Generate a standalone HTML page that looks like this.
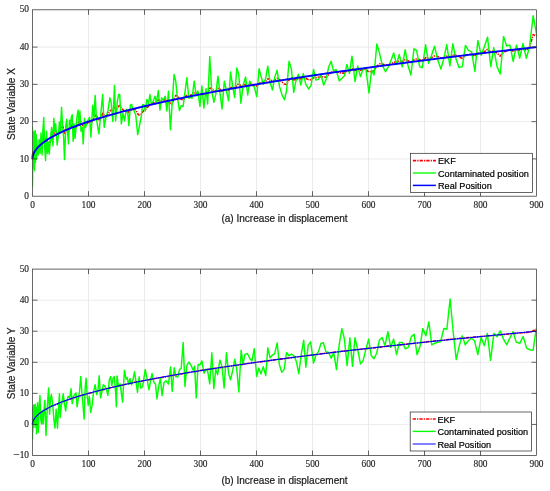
<!DOCTYPE html>
<html><head><meta charset="utf-8"><title>EKF</title>
<style>
html,body{margin:0;padding:0;background:#fff;}
svg{display:block}
.tk{font-family:"Liberation Serif","DejaVu Serif",serif;font-size:9.4px;fill:#262626;stroke:#262626;stroke-width:0.15px}
.lb{font-family:"Liberation Sans","DejaVu Sans",sans-serif;font-size:10.05px;fill:#1a1a1a;stroke:#1a1a1a;stroke-width:0.2px}
.lg{font-family:"Liberation Sans","DejaVu Sans",sans-serif;font-size:9.15px;fill:#000;stroke:#000;stroke-width:0.2px}
</style></head><body>
<svg width="550" height="491" viewBox="0 0 550 491">
<defs>
<clipPath id="c10"><rect x="32.5" y="9.8" width="504.0" height="186.39999999999998"/></clipPath>
<clipPath id="c0"><rect x="32.5" y="269.1" width="504.0" height="186.39999999999998"/></clipPath>
</defs>
<rect width="550" height="491" fill="#fff"/>
<rect x="32.5" y="9.8" width="504.0" height="186.39999999999998" fill="#fff"/>
<line x1="32.50" y1="9.8" x2="32.50" y2="196.2" stroke="#e2e2e2" stroke-width="0.7"/>
<line x1="88.50" y1="9.8" x2="88.50" y2="196.2" stroke="#e2e2e2" stroke-width="0.7"/>
<line x1="144.50" y1="9.8" x2="144.50" y2="196.2" stroke="#e2e2e2" stroke-width="0.7"/>
<line x1="200.50" y1="9.8" x2="200.50" y2="196.2" stroke="#e2e2e2" stroke-width="0.7"/>
<line x1="256.50" y1="9.8" x2="256.50" y2="196.2" stroke="#e2e2e2" stroke-width="0.7"/>
<line x1="312.50" y1="9.8" x2="312.50" y2="196.2" stroke="#e2e2e2" stroke-width="0.7"/>
<line x1="368.50" y1="9.8" x2="368.50" y2="196.2" stroke="#e2e2e2" stroke-width="0.7"/>
<line x1="424.50" y1="9.8" x2="424.50" y2="196.2" stroke="#e2e2e2" stroke-width="0.7"/>
<line x1="480.50" y1="9.8" x2="480.50" y2="196.2" stroke="#e2e2e2" stroke-width="0.7"/>
<line x1="536.50" y1="9.8" x2="536.50" y2="196.2" stroke="#e2e2e2" stroke-width="0.7"/>
<line x1="32.5" y1="196.20" x2="536.5" y2="196.20" stroke="#e2e2e2" stroke-width="0.7"/>
<line x1="32.5" y1="158.92" x2="536.5" y2="158.92" stroke="#e2e2e2" stroke-width="0.7"/>
<line x1="32.5" y1="121.64" x2="536.5" y2="121.64" stroke="#e2e2e2" stroke-width="0.7"/>
<line x1="32.5" y1="84.36" x2="536.5" y2="84.36" stroke="#e2e2e2" stroke-width="0.7"/>
<line x1="32.5" y1="47.08" x2="536.5" y2="47.08" stroke="#e2e2e2" stroke-width="0.7"/>
<line x1="32.5" y1="9.80" x2="536.5" y2="9.80" stroke="#e2e2e2" stroke-width="0.7"/>
<polyline points="32.50,153.85 32.51,159.16 32.52,156.37 32.55,157.22 32.59,153.35 32.64,157.70 32.70,154.54 32.77,156.31 32.86,152.36 32.95,153.12 33.06,152.17 33.18,154.70 33.31,150.90 33.45,151.59 33.60,149.39 33.76,151.29 33.93,148.03 34.12,148.71 34.31,147.69 34.52,151.49 34.74,148.82 34.97,149.47 35.21,146.28 35.46,148.98 35.73,147.52 36.00,147.76 36.29,145.52 36.58,147.69 36.89,146.29 37.21,146.41 37.54,146.83 37.88,147.49 38.23,148.35 38.60,148.06 38.97,146.78 39.36,145.69 39.76,145.80 40.17,146.38 40.59,145.31 41.02,143.01 41.46,142.66 41.91,143.82 42.38,143.89 42.85,141.47 43.34,138.44 43.84,135.55 44.35,136.04 44.87,138.54 45.40,141.57 45.95,142.45 46.50,140.25 47.07,140.61 47.64,141.84 48.23,141.61 48.83,142.17 49.44,143.09 50.06,142.39 50.69,140.59 51.34,138.34 51.99,136.98 52.66,137.46 53.34,136.48 54.03,133.63 54.73,133.02 55.44,131.78 56.16,131.58 56.89,133.08 57.64,134.17 58.39,134.01 59.16,132.18 59.94,131.45 60.73,130.06 61.53,126.42 62.34,125.86 63.17,127.15 64.00,130.43 64.85,133.35 65.70,131.89 66.57,129.55 67.45,129.42 68.34,131.08 69.24,129.71 70.15,128.69 71.08,126.91 72.01,124.82 72.96,126.66 73.92,126.31 74.89,127.83 75.87,127.65 76.86,125.64 77.86,123.07 78.87,122.48 79.90,120.59 80.93,122.12 81.98,123.00 83.04,125.64 84.11,125.20 85.19,124.53 86.28,124.07 87.39,123.14 88.50,122.11 89.63,121.11 90.76,123.06 91.91,121.91 93.07,119.36 94.24,118.08 95.42,115.08 96.61,115.95 97.82,117.73 99.03,119.86 100.26,119.30 101.50,116.79 102.75,113.24 104.01,115.02 105.28,115.84 106.56,115.51 107.85,114.55 109.16,112.43 110.47,110.39 111.80,110.39 113.14,111.13 114.49,107.14 115.85,109.17 117.22,108.25 118.61,106.18 120.00,105.46 121.41,108.66 122.82,109.55 124.25,110.95 125.69,111.01 127.14,110.77 128.60,112.28 130.07,111.22 131.56,109.68 133.05,109.33 134.56,109.42 136.08,110.47 137.61,113.67 139.15,115.03 140.70,114.71 142.26,112.58 143.83,110.52 145.42,109.69 147.01,107.46 148.62,106.24 150.24,104.26 151.87,103.79 153.51,102.99 155.16,101.77 156.83,101.46 158.50,99.90 160.19,101.22 161.88,100.56 163.59,100.24 165.31,99.59 167.04,100.86 168.78,100.02 170.53,104.28 172.30,103.19 174.07,98.05 175.86,95.38 177.66,96.04 179.47,98.28 181.29,99.18 183.12,99.91 184.96,98.21 186.81,94.61 188.68,94.87 190.55,95.14 192.44,94.98 194.34,92.67 196.25,93.09 198.17,93.02 200.10,94.77 202.05,93.26 204.00,95.21 205.97,93.74 207.94,93.96 209.93,88.02 211.93,88.75 213.94,90.87 215.96,90.99 217.99,88.40 220.04,89.14 222.09,92.04 224.16,90.17 226.24,89.79 228.33,91.01 230.43,87.81 232.54,87.19 234.66,88.61 236.79,84.96 238.94,83.66 241.09,86.52 243.26,85.98 245.44,84.38 247.63,85.78 249.83,84.76 252.04,84.60 254.27,84.69 256.50,86.14 258.75,83.52 261.00,82.06 263.27,82.10 265.55,81.35 267.84,78.83 270.14,79.48 272.45,81.05 274.78,80.19 277.11,78.42 279.46,79.56 281.82,81.68 284.19,84.04 286.57,84.44 288.96,80.14 291.36,77.94 293.77,79.99 296.20,79.56 298.63,78.46 301.08,78.93 303.54,77.79 306.01,78.49 308.49,79.65 310.98,79.92 313.49,77.67 316.00,77.54 318.53,77.27 321.06,76.45 323.61,77.24 326.17,76.96 328.74,74.72 331.32,72.25 333.91,71.77 336.52,71.43 339.13,72.60 341.76,73.14 344.40,73.10 347.05,71.29 349.71,71.00 352.38,68.81 355.06,70.62 357.75,69.51 360.46,70.30 363.17,69.58 365.90,69.03 368.64,72.04 371.39,71.29 374.15,71.01 376.92,66.04 379.71,63.84 382.50,64.03 385.31,65.04 388.12,65.09 390.95,64.04 393.79,62.06 396.64,62.22 399.50,60.99 402.37,61.67 405.26,59.67 408.15,60.64 411.06,62.52 413.98,59.97 416.91,58.54 419.85,59.81 422.80,60.31 425.76,57.68 428.73,58.44 431.72,57.64 434.71,55.80 437.72,56.44 440.74,58.28 443.77,58.03 446.81,55.59 449.86,57.07 452.93,54.71 456.00,55.24 459.09,56.99 462.18,58.14 465.29,55.71 468.41,54.49 471.54,53.79 474.68,56.16 477.83,53.21 481.00,53.16 484.17,51.92 487.36,49.43 490.56,51.82 493.77,50.94 496.99,53.20 500.22,56.04 503.46,52.33 506.71,50.85 509.98,49.63 513.25,51.20 516.54,49.82 519.84,50.73 523.15,49.19 526.47,50.16 529.80,46.78 533.15,34.60 536.50,36.19" fill="none" stroke="#ff0000" stroke-width="1.6" stroke-dasharray="3.3 1.1 1.2 1.1" stroke-linejoin="round"/>
<polyline points="32.50,127.23 32.51,186.13 32.52,144.01 32.55,162.65 32.59,134.69 32.64,180.17 32.70,140.28 32.77,166.38 32.86,133.57 32.95,157.06 33.06,147.74 33.18,168.24 33.31,132.82 33.45,155.19 33.60,138.42 33.76,160.78 33.93,131.71 34.12,151.46 34.31,142.14 34.52,170.85 34.74,136.55 34.97,153.33 35.21,130.59 35.46,162.65 35.73,141.03 36.00,149.60 36.29,134.69 36.58,158.92 36.89,140.28 37.21,147.74 38.26,155.05 39.17,139.45 40.09,153.21 41.01,133.03 42.11,155.05 42.84,131.19 43.76,117.43 44.68,147.71 45.60,160.55 46.51,131.19 47.43,153.21 48.35,142.20 49.27,154.13 50.55,136.70 51.65,127.52 52.94,145.87 53.85,118.35 54.77,131.19 55.69,123.85 57.16,144.95 58.44,134.86 59.36,122.02 60.28,133.03 61.56,107.34 62.66,127.52 63.58,136.70 64.50,159.63 65.78,125.69 66.70,119.27 67.61,133.03 68.53,144.04 69.45,120.18 70.37,127.52 71.28,117.43 72.20,114.68 73.12,141.28 74.04,123.85 74.95,138.53 75.87,129.36 76.79,118.35 78.07,110.09 79.17,123.85 79.91,111.01 81.01,131.19 82.29,127.52 83.21,144.04 84.50,118.35 85.60,127.52 86.88,122.02 89.58,117.46 90.89,137.10 92.69,105.19 94.00,117.46 95.15,95.37 96.46,119.10 98.91,133.83 100.88,112.55 102.68,94.55 104.15,127.28 105.95,117.46 107.91,110.92 109.88,97.82 111.19,102.73 112.82,121.55 114.46,85.55 115.61,120.74 117.24,102.73 118.55,94.55 119.70,94.55 121.33,124.01 122.97,113.37 124.61,120.74 126.24,109.28 127.88,113.37 128.86,125.65 130.34,105.19 131.64,104.37 132.79,109.28 134.10,110.92 135.74,115.01 137.70,134.65 139.83,124.01 141.46,115.01 142.61,104.37 144.25,105.19 145.23,110.92 146.87,99.46 148.50,103.55 149.98,94.55 151.28,103.55 152.92,101.91 155.05,96.19 156.52,102.73 158.32,90.46 159.96,110.10 161.60,97.82 163.23,100.28 165.20,96.19 166.83,110.92 168.47,91.28 170.43,129.74 174.09,74.55 175.73,81.10 177.36,97.46 179.49,110.56 181.13,105.65 183.09,106.46 184.73,94.19 186.86,77.82 188.82,98.28 190.46,97.46 192.09,98.28 194.22,81.10 196.19,95.83 197.82,90.92 199.95,106.46 201.91,86.01 203.88,108.10 206.01,88.46 207.64,104.01 209.77,56.55 211.73,90.92 213.86,102.37 215.83,94.19 217.95,76.19 219.92,92.55 222.05,108.92 224.34,81.10 226.46,90.92 228.59,100.74 230.56,72.09 232.52,85.19 234.65,97.46 236.78,68.00 238.74,74.55 240.87,103.19 243.16,85.19 245.61,77.00 247.74,95.01 249.71,81.10 251.83,85.19 254.29,86.82 256.74,96.64 259.09,68.64 260.73,75.19 263.51,84.19 265.64,78.46 267.77,66.19 270.06,82.55 272.51,89.92 274.64,77.64 277.09,70.28 279.55,86.64 282.00,94.83 284.46,99.74 286.59,90.74 289.04,61.28 291.33,68.64 293.79,92.37 295.92,80.92 298.37,74.37 300.83,85.01 303.28,73.55 305.74,84.19 308.68,89.10 311.14,85.01 313.59,69.46 315.88,80.10 318.50,79.28 320.96,75.19 323.74,85.01 326.19,79.28 328.65,67.00 331.10,61.28 333.56,71.10 336.01,69.46 339.29,80.92 341.74,78.46 344.42,75.83 346.87,64.37 349.49,73.37 351.95,56.19 355.06,81.55 357.68,66.01 360.46,76.64 363.24,68.46 365.86,68.46 368.97,93.01 371.59,70.10 374.04,75.01 376.82,43.91 379.28,52.09 382.23,65.19 385.50,71.73 388.28,66.82 391.06,60.28 393.68,52.91 396.46,64.37 399.25,54.55 402.19,66.82 405.14,49.64 407.92,65.19 410.87,75.01 413.98,48.82 416.60,50.46 419.71,66.82 422.32,67.64 425.60,44.73 428.60,63.37 431.55,55.19 434.49,46.19 437.77,60.10 440.88,69.10 443.82,58.46 446.77,44.55 449.88,65.83 452.82,43.73 456.10,59.28 459.04,67.46 462.32,66.64 465.43,45.37 468.37,50.28 471.64,51.91 474.92,71.55 477.86,40.46 481.14,55.19 484.25,47.00 487.52,37.18 490.79,66.64 493.74,47.82 497.01,66.64 500.29,74.01 503.56,36.37 506.64,45.92 509.92,45.10 513.19,61.46 516.46,45.10 519.74,58.19 523.01,43.46 526.28,58.19 529.56,46.73 533.16,15.64 536.92,36.10" fill="none" stroke="#00ff00" stroke-width="1.45" stroke-linejoin="round" clip-path="url(#c10)"/>
<polyline points="32.50,158.92 32.51,158.55 32.52,158.17 32.55,157.80 32.59,157.43 32.64,157.06 32.70,156.68 32.77,156.31 32.86,155.94 32.95,155.56 33.06,155.19 33.18,154.82 33.31,154.45 33.45,154.07 33.60,153.70 33.76,153.33 33.93,152.96 34.12,152.58 34.31,152.21 34.52,151.84 34.74,151.46 34.97,151.09 35.21,150.72 35.46,150.35 35.73,149.97 36.00,149.60 36.29,149.23 36.58,148.85 36.89,148.48 37.21,148.11 37.54,147.74 37.88,147.36 38.23,146.99 38.60,146.62 38.97,146.24 39.36,145.87 39.76,145.50 40.17,145.13 40.59,144.75 41.02,144.38 41.46,144.01 41.91,143.64 42.38,143.26 42.85,142.89 43.34,142.52 43.84,142.14 44.35,141.77 44.87,141.40 45.40,141.03 45.95,140.65 46.50,140.28 47.07,139.91 47.64,139.53 48.23,139.16 48.83,138.79 49.44,138.42 50.06,138.04 50.69,137.67 51.34,137.30 51.99,136.92 52.66,136.55 53.34,136.18 54.03,135.81 54.73,135.43 55.44,135.06 56.16,134.69 56.89,134.32 57.64,133.94 58.39,133.57 59.16,133.20 59.94,132.82 60.73,132.45 61.53,132.08 62.34,131.71 63.17,131.33 64.00,130.96 64.85,130.59 65.70,130.21 66.57,129.84 67.45,129.47 68.34,129.10 69.24,128.72 70.15,128.35 71.08,127.98 72.01,127.60 72.96,127.23 73.92,126.86 74.89,126.49 75.87,126.11 76.86,125.74 77.86,125.37 78.87,125.00 79.90,124.62 80.93,124.25 81.98,123.88 83.04,123.50 84.11,123.13 85.19,122.76 86.28,122.39 87.39,122.01 88.50,121.64 89.63,121.27 90.76,120.89 91.91,120.52 93.07,120.15 94.24,119.78 95.42,119.40 96.61,119.03 97.82,118.66 99.03,118.28 100.26,117.91 101.50,117.54 102.75,117.17 104.01,116.79 105.28,116.42 106.56,116.05 107.85,115.68 109.16,115.30 110.47,114.93 111.80,114.56 113.14,114.18 114.49,113.81 115.85,113.44 117.22,113.07 118.61,112.69 120.00,112.32 121.41,111.95 122.82,111.57 124.25,111.20 125.69,110.83 127.14,110.46 128.60,110.08 130.07,109.71 131.56,109.34 133.05,108.96 134.56,108.59 136.08,108.22 137.61,107.85 139.15,107.47 140.70,107.10 142.26,106.73 143.83,106.36 145.42,105.98 147.01,105.61 148.62,105.24 150.24,104.86 151.87,104.49 153.51,104.12 155.16,103.75 156.83,103.37 158.50,103.00 160.19,102.63 161.88,102.25 163.59,101.88 165.31,101.51 167.04,101.14 168.78,100.76 170.53,100.39 172.30,100.02 174.07,99.64 175.86,99.27 177.66,98.90 179.47,98.53 181.29,98.15 183.12,97.78 184.96,97.41 186.81,97.04 188.68,96.66 190.55,96.29 192.44,95.92 194.34,95.54 196.25,95.17 198.17,94.80 200.10,94.43 202.05,94.05 204.00,93.68 205.97,93.31 207.94,92.93 209.93,92.56 211.93,92.19 213.94,91.82 215.96,91.44 217.99,91.07 220.04,90.70 222.09,90.32 224.16,89.95 226.24,89.58 228.33,89.21 230.43,88.83 232.54,88.46 234.66,88.09 236.79,87.72 238.94,87.34 241.09,86.97 243.26,86.60 245.44,86.22 247.63,85.85 249.83,85.48 252.04,85.11 254.27,84.73 256.50,84.36 258.75,83.99 261.00,83.61 263.27,83.24 265.55,82.87 267.84,82.50 270.14,82.12 272.45,81.75 274.78,81.38 277.11,81.00 279.46,80.63 281.82,80.26 284.19,79.89 286.57,79.51 288.96,79.14 291.36,78.77 293.77,78.40 296.20,78.02 298.63,77.65 301.08,77.28 303.54,76.90 306.01,76.53 308.49,76.16 310.98,75.79 313.49,75.41 316.00,75.04 318.53,74.67 321.06,74.29 323.61,73.92 326.17,73.55 328.74,73.18 331.32,72.80 333.91,72.43 336.52,72.06 339.13,71.68 341.76,71.31 344.40,70.94 347.05,70.57 349.71,70.19 352.38,69.82 355.06,69.45 357.75,69.08 360.46,68.70 363.17,68.33 365.90,67.96 368.64,67.58 371.39,67.21 374.15,66.84 376.92,66.47 379.71,66.09 382.50,65.72 385.31,65.35 388.12,64.97 390.95,64.60 393.79,64.23 396.64,63.86 399.50,63.48 402.37,63.11 405.26,62.74 408.15,62.36 411.06,61.99 413.98,61.62 416.91,61.25 419.85,60.87 422.80,60.50 425.76,60.13 428.73,59.76 431.72,59.38 434.71,59.01 437.72,58.64 440.74,58.26 443.77,57.89 446.81,57.52 449.86,57.15 452.93,56.77 456.00,56.40 459.09,56.03 462.18,55.65 465.29,55.28 468.41,54.91 471.54,54.54 474.68,54.16 477.83,53.79 481.00,53.42 484.17,53.04 487.36,52.67 490.56,52.30 493.77,51.93 496.99,51.55 500.22,51.18 503.46,50.81 506.71,50.44 509.98,50.06 513.25,49.69 516.54,49.32 519.84,48.94 523.15,48.57 526.47,48.20 529.80,47.83 533.15,47.45 536.50,47.08" fill="none" stroke="#0000ff" stroke-width="1.9" stroke-opacity="1" stroke-linejoin="round"/>
<rect x="32.5" y="9.8" width="504.0" height="186.39999999999998" fill="none" stroke="#333" stroke-width="0.7"/>
<text x="32.50" y="207.89999999999998" class="tk" text-anchor="middle">0</text>
<line x1="88.50" y1="196.2" x2="88.50" y2="191.2" stroke="#262626" stroke-width="0.7"/>
<line x1="88.50" y1="9.8" x2="88.50" y2="14.8" stroke="#262626" stroke-width="0.7"/>
<text x="88.50" y="207.89999999999998" class="tk" text-anchor="middle">100</text>
<line x1="144.50" y1="196.2" x2="144.50" y2="191.2" stroke="#262626" stroke-width="0.7"/>
<line x1="144.50" y1="9.8" x2="144.50" y2="14.8" stroke="#262626" stroke-width="0.7"/>
<text x="144.50" y="207.89999999999998" class="tk" text-anchor="middle">200</text>
<line x1="200.50" y1="196.2" x2="200.50" y2="191.2" stroke="#262626" stroke-width="0.7"/>
<line x1="200.50" y1="9.8" x2="200.50" y2="14.8" stroke="#262626" stroke-width="0.7"/>
<text x="200.50" y="207.89999999999998" class="tk" text-anchor="middle">300</text>
<line x1="256.50" y1="196.2" x2="256.50" y2="191.2" stroke="#262626" stroke-width="0.7"/>
<line x1="256.50" y1="9.8" x2="256.50" y2="14.8" stroke="#262626" stroke-width="0.7"/>
<text x="256.50" y="207.89999999999998" class="tk" text-anchor="middle">400</text>
<line x1="312.50" y1="196.2" x2="312.50" y2="191.2" stroke="#262626" stroke-width="0.7"/>
<line x1="312.50" y1="9.8" x2="312.50" y2="14.8" stroke="#262626" stroke-width="0.7"/>
<text x="312.50" y="207.89999999999998" class="tk" text-anchor="middle">500</text>
<line x1="368.50" y1="196.2" x2="368.50" y2="191.2" stroke="#262626" stroke-width="0.7"/>
<line x1="368.50" y1="9.8" x2="368.50" y2="14.8" stroke="#262626" stroke-width="0.7"/>
<text x="368.50" y="207.89999999999998" class="tk" text-anchor="middle">600</text>
<line x1="424.50" y1="196.2" x2="424.50" y2="191.2" stroke="#262626" stroke-width="0.7"/>
<line x1="424.50" y1="9.8" x2="424.50" y2="14.8" stroke="#262626" stroke-width="0.7"/>
<text x="424.50" y="207.89999999999998" class="tk" text-anchor="middle">700</text>
<line x1="480.50" y1="196.2" x2="480.50" y2="191.2" stroke="#262626" stroke-width="0.7"/>
<line x1="480.50" y1="9.8" x2="480.50" y2="14.8" stroke="#262626" stroke-width="0.7"/>
<text x="480.50" y="207.89999999999998" class="tk" text-anchor="middle">800</text>
<text x="536.50" y="207.89999999999998" class="tk" text-anchor="middle">900</text>
<text x="29.0" y="198.80" class="tk" text-anchor="end">0</text>
<line x1="32.5" y1="158.92" x2="37.5" y2="158.92" stroke="#262626" stroke-width="0.7"/>
<line x1="536.5" y1="158.92" x2="531.5" y2="158.92" stroke="#262626" stroke-width="0.7"/>
<text x="29.0" y="161.52" class="tk" text-anchor="end">10</text>
<line x1="32.5" y1="121.64" x2="37.5" y2="121.64" stroke="#262626" stroke-width="0.7"/>
<line x1="536.5" y1="121.64" x2="531.5" y2="121.64" stroke="#262626" stroke-width="0.7"/>
<text x="29.0" y="124.24" class="tk" text-anchor="end">20</text>
<line x1="32.5" y1="84.36" x2="37.5" y2="84.36" stroke="#262626" stroke-width="0.7"/>
<line x1="536.5" y1="84.36" x2="531.5" y2="84.36" stroke="#262626" stroke-width="0.7"/>
<text x="29.0" y="86.96" class="tk" text-anchor="end">30</text>
<line x1="32.5" y1="47.08" x2="37.5" y2="47.08" stroke="#262626" stroke-width="0.7"/>
<line x1="536.5" y1="47.08" x2="531.5" y2="47.08" stroke="#262626" stroke-width="0.7"/>
<text x="29.0" y="49.68" class="tk" text-anchor="end">40</text>
<text x="29.0" y="12.40" class="tk" text-anchor="end">50</text>
<text transform="translate(14.9,104.0) rotate(-90)" class="lb" text-anchor="middle">State Variable X</text>
<text x="284.5" y="222.2" class="lb" text-anchor="middle">(a) Increase in displacement</text>
<rect x="410.4" y="153.3" width="122.1" height="39.3" fill="#fff" stroke="#262626" stroke-width="0.7"/>
<line x1="412.9" y1="160.60" x2="435.9" y2="160.60" stroke="#ff0000" stroke-width="1.6" stroke-opacity="1" stroke-dasharray="3.3 1.1 1.2 1.1"/>
<text x="438.0" y="164.40" class="lg">EKF</text>
<line x1="412.9" y1="173.00" x2="435.9" y2="173.00" stroke="#00ff00" stroke-width="1.35" stroke-opacity="1"/>
<text x="438.0" y="176.80" class="lg">Contaminated position</text>
<line x1="412.9" y1="185.40" x2="435.9" y2="185.40" stroke="#0000ff" stroke-width="1.5" stroke-opacity="1"/>
<text x="438.0" y="189.20" class="lg">Real Position</text>
<rect x="32.5" y="269.1" width="504.0" height="186.39999999999998" fill="#fff"/>
<line x1="32.50" y1="269.1" x2="32.50" y2="455.5" stroke="#e2e2e2" stroke-width="0.7"/>
<line x1="88.50" y1="269.1" x2="88.50" y2="455.5" stroke="#e2e2e2" stroke-width="0.7"/>
<line x1="144.50" y1="269.1" x2="144.50" y2="455.5" stroke="#e2e2e2" stroke-width="0.7"/>
<line x1="200.50" y1="269.1" x2="200.50" y2="455.5" stroke="#e2e2e2" stroke-width="0.7"/>
<line x1="256.50" y1="269.1" x2="256.50" y2="455.5" stroke="#e2e2e2" stroke-width="0.7"/>
<line x1="312.50" y1="269.1" x2="312.50" y2="455.5" stroke="#e2e2e2" stroke-width="0.7"/>
<line x1="368.50" y1="269.1" x2="368.50" y2="455.5" stroke="#e2e2e2" stroke-width="0.7"/>
<line x1="424.50" y1="269.1" x2="424.50" y2="455.5" stroke="#e2e2e2" stroke-width="0.7"/>
<line x1="480.50" y1="269.1" x2="480.50" y2="455.5" stroke="#e2e2e2" stroke-width="0.7"/>
<line x1="536.50" y1="269.1" x2="536.50" y2="455.5" stroke="#e2e2e2" stroke-width="0.7"/>
<line x1="32.5" y1="455.50" x2="536.5" y2="455.50" stroke="#e2e2e2" stroke-width="0.7"/>
<line x1="32.5" y1="424.43" x2="536.5" y2="424.43" stroke="#e2e2e2" stroke-width="0.7"/>
<line x1="32.5" y1="393.37" x2="536.5" y2="393.37" stroke="#e2e2e2" stroke-width="0.7"/>
<line x1="32.5" y1="362.30" x2="536.5" y2="362.30" stroke="#e2e2e2" stroke-width="0.7"/>
<line x1="32.5" y1="331.23" x2="536.5" y2="331.23" stroke="#e2e2e2" stroke-width="0.7"/>
<line x1="32.5" y1="300.17" x2="536.5" y2="300.17" stroke="#e2e2e2" stroke-width="0.7"/>
<line x1="32.5" y1="269.10" x2="536.5" y2="269.10" stroke="#e2e2e2" stroke-width="0.7"/>
<polyline points="32.50,424.43 32.51,424.21 32.52,423.83 32.55,423.59 32.59,423.19 32.64,422.88 32.70,422.51 32.77,422.27 32.86,421.87 32.95,421.56 33.06,421.19 33.18,420.92 33.31,420.58 33.45,420.20 33.60,419.91 33.76,419.52 33.93,419.28 34.12,418.93 34.31,418.63 34.52,418.27 34.74,418.02 34.97,417.68 35.21,417.30 35.46,417.01 35.73,416.78 36.00,416.43 36.29,416.12 36.58,415.94 36.89,415.59 37.21,415.30 37.54,414.93 37.88,414.63 38.23,414.43 38.60,414.17 38.97,413.85 39.36,413.47 39.76,413.08 40.17,412.71 40.59,412.43 41.02,412.18 41.46,411.95 41.91,411.69 42.38,411.38 42.85,411.11 43.34,410.86 43.84,410.56 44.35,410.21 44.87,409.84 45.40,409.58 45.95,409.41 46.50,409.18 47.07,408.87 47.64,408.50 48.23,408.08 48.83,407.67 49.44,407.38 50.06,407.06 50.69,406.69 51.34,406.32 51.99,405.97 52.66,405.66 53.34,405.40 54.03,405.19 54.73,405.00 55.44,404.78 56.16,404.48 56.89,404.25 57.64,404.04 58.39,403.74 59.16,403.37 59.94,403.07 60.73,402.78 61.53,402.45 62.34,402.10 63.17,401.72 64.00,401.38 64.85,401.08 65.70,400.81 66.57,400.50 67.45,400.16 68.34,399.81 69.24,399.47 70.15,399.12 71.08,398.74 72.01,398.44 72.96,398.12 73.92,397.79 74.89,397.46 75.87,397.12 76.86,396.85 77.86,396.56 78.87,396.24 79.90,395.87 80.93,395.46 81.98,395.15 83.04,394.91 84.11,394.75 85.19,394.40 86.28,394.00 87.39,393.71 88.50,393.46 89.63,393.18 90.76,392.97 91.91,392.73 93.07,392.42 94.24,392.07 95.42,391.71 96.61,391.40 97.82,391.07 99.03,390.66 100.26,390.37 101.50,390.07 102.75,389.74 104.01,389.39 105.28,389.07 106.56,388.76 107.85,388.48 109.16,388.13 110.47,387.75 111.80,387.43 113.14,387.07 114.49,386.72 115.85,386.48 117.22,386.12 118.61,385.82 120.00,385.51 121.41,385.25 122.82,385.02 124.25,384.64 125.69,384.29 127.14,383.94 128.60,383.64 130.07,383.31 131.56,383.02 133.05,382.70 134.56,382.33 136.08,382.03 137.61,381.79 139.15,381.46 140.70,381.19 142.26,380.92 143.83,380.60 145.42,380.24 147.01,379.92 148.62,379.67 150.24,379.38 151.87,379.04 153.51,378.75 155.16,378.47 156.83,378.27 158.50,378.01 160.19,377.70 161.88,377.47 163.59,377.19 165.31,376.89 167.04,376.59 168.78,376.28 170.53,375.90 172.30,375.66 174.07,375.28 175.86,374.96 177.66,374.65 179.47,374.29 181.29,373.93 183.12,373.42 184.96,373.20 186.81,372.85 188.68,372.48 190.55,372.13 192.44,371.80 194.34,371.48 196.25,371.34 198.17,370.98 200.10,370.64 202.05,370.28 204.00,370.00 205.97,369.69 207.94,369.40 209.93,369.17 211.93,368.76 213.94,368.57 215.96,368.27 217.99,367.98 220.04,367.62 222.09,367.30 224.16,367.11 226.24,366.72 228.33,366.44 230.43,366.20 232.54,365.91 234.66,365.55 236.79,365.25 238.94,365.09 241.09,364.67 243.26,364.34 245.44,363.95 247.63,363.58 249.83,363.24 252.04,362.91 254.27,362.52 256.50,362.29 258.75,362.02 261.00,361.78 263.27,361.49 265.55,361.25 267.84,360.85 270.14,360.51 272.45,360.17 274.78,359.81 277.11,359.40 279.46,359.13 281.82,358.91 284.19,358.66 286.57,358.31 288.96,357.98 291.36,357.64 293.77,357.32 296.20,357.04 298.63,356.82 301.08,356.50 303.54,356.09 306.01,355.84 308.49,355.46 310.98,355.08 313.49,354.83 316.00,354.52 318.53,354.19 321.06,353.82 323.61,353.46 326.17,353.15 328.74,352.85 331.32,352.58 333.91,352.29 336.52,352.08 339.13,351.73 341.76,351.29 344.40,350.92 347.05,350.71 349.71,350.34 352.38,350.13 355.06,349.75 357.75,349.46 360.46,349.24 363.17,349.00 365.90,348.69 368.64,348.32 371.39,348.05 374.15,347.80 376.92,347.52 379.71,347.15 382.50,346.78 385.31,346.46 388.12,346.07 390.95,345.77 393.79,345.43 396.64,345.18 399.50,344.86 402.37,344.54 405.26,344.26 408.15,343.97 411.06,343.62 413.98,343.26 416.91,343.02 419.85,342.73 422.80,342.34 425.76,342.00 428.73,341.58 431.72,341.30 434.71,341.02 437.72,340.73 440.74,340.43 443.77,340.06 446.81,339.70 449.86,339.18 452.93,338.84 456.00,338.68 459.09,338.44 462.18,338.14 465.29,337.89 468.41,337.61 471.54,337.32 474.68,337.04 477.83,336.84 481.00,336.54 484.17,336.28 487.36,335.95 490.56,335.78 493.77,335.45 496.99,335.13 500.22,334.79 503.46,334.49 506.71,334.24 509.98,333.93 513.25,333.60 516.54,333.33 519.84,333.06 523.15,332.75 526.47,332.51 529.80,332.28 533.15,330.65 536.50,330.28" fill="none" stroke="#ff0000" stroke-width="1.6" stroke-dasharray="3.3 1.1 1.2 1.1" stroke-linejoin="round"/>
<polyline points="32.50,424.43 32.51,439.35 32.52,412.01 32.55,436.24 32.59,408.90 32.64,422.88 32.70,413.56 32.77,432.20 32.86,407.35 32.95,421.33 33.06,410.45 33.18,425.99 33.31,415.11 33.45,407.35 33.60,419.77 33.76,404.86 33.93,427.54 34.12,410.45 34.31,418.22 34.52,406.41 34.74,424.43 34.97,410.45 35.21,404.24 35.46,416.67 35.73,426.92 36.00,407.35 36.29,413.56 36.58,433.75 36.89,407.35 37.21,418.22 37.54,402.69 37.88,415.11 38.31,432.19 39.13,406.01 39.95,395.37 40.77,419.10 41.58,424.01 42.40,410.92 43.22,424.01 44.04,409.28 44.86,400.28 46.00,435.47 47.15,410.92 47.97,396.19 48.62,388.00 49.60,414.19 50.42,399.46 51.40,394.55 52.55,402.73 53.86,419.10 55.00,428.10 56.15,409.28 57.46,428.10 58.61,407.64 59.42,393.73 60.24,417.46 61.22,406.01 62.37,400.28 63.19,393.73 64.33,402.73 65.64,410.92 66.95,401.10 68.10,396.19 69.73,397.82 71.04,388.82 72.19,403.55 73.50,396.19 74.64,394.55 75.95,392.91 77.10,406.82 78.41,397.82 79.55,391.28 80.70,376.55 82.01,394.55 83.32,409.28 84.14,419.10 85.28,386.37 86.10,378.18 87.25,396.19 88.23,405.19 89.37,396.19 90.68,412.55 92.16,405.19 93.47,392.91 95.10,384.73 96.74,394.55 98.05,389.64 99.19,375.73 100.50,397.82 101.98,391.28 103.29,384.73 104.92,386.37 106.56,389.64 107.87,395.37 109.34,379.82 110.65,376.55 111.80,385.55 113.11,378.18 114.25,376.55 115.56,391.28 116.38,406.82 117.04,375.92 118.51,386.55 120.15,384.10 122.60,402.10 124.40,370.19 126.04,379.19 127.18,377.55 128.49,384.10 129.97,378.37 131.60,384.92 132.91,380.01 134.55,371.82 136.19,383.28 137.50,392.28 139.13,376.73 140.77,388.19 142.73,386.55 145.19,369.37 147.15,379.19 148.95,389.83 150.92,379.19 152.06,373.46 153.86,382.46 155.50,384.10 156.97,398.83 158.77,385.74 160.41,378.37 162.05,395.56 164.01,382.46 166.14,380.83 168.43,384.10 170.56,366.91 172.19,391.46 174.16,367.73 175.79,376.73 177.92,376.73 179.56,369.37 181.19,368.55 183.16,342.36 184.96,386.55 186.92,365.28 188.89,362.00 191.01,365.28 193.14,370.19 194.62,366.10 196.25,398.01 198.05,364.46 199.91,365.01 201.87,360.92 204.00,373.19 205.97,369.10 207.77,371.55 209.73,383.83 211.86,352.73 213.82,388.74 215.79,369.10 217.59,374.83 219.88,360.10 222.00,366.64 224.13,387.92 226.42,352.73 228.55,373.19 230.52,379.74 232.64,370.74 234.77,359.28 236.73,369.10 238.86,392.01 241.15,350.28 242.95,364.19 244.92,354.37 247.37,353.55 249.83,358.46 251.96,360.92 254.25,348.64 256.70,376.46 258.83,368.28 260.96,374.01 263.25,366.64 265.70,375.65 267.83,347.82 269.96,357.64 272.25,355.19 274.71,353.55 277.16,342.91 279.29,364.19 281.74,372.37 284.09,369.65 286.55,352.46 289.00,355.74 291.46,354.10 293.91,355.74 296.37,361.46 298.82,373.74 301.28,354.10 303.73,340.19 305.86,367.19 308.15,345.10 310.61,341.82 313.55,363.10 316.01,354.92 318.46,351.64 320.92,343.46 323.37,342.64 325.83,351.64 328.61,352.46 331.23,358.19 333.68,352.46 336.46,369.65 339.25,344.28 341.87,328.73 344.32,338.55 347.10,365.56 349.89,337.73 352.50,366.37 354.96,337.73 357.74,350.01 360.52,363.92 363.14,360.65 365.92,349.19 368.60,339.10 371.22,355.47 374.00,358.74 376.78,353.01 379.40,339.92 382.18,337.46 384.97,345.65 387.91,331.73 390.70,347.28 393.64,339.10 396.59,354.65 399.37,342.37 402.32,342.37 405.43,348.92 408.37,347.28 411.32,336.64 414.10,334.19 417.05,354.65 420.16,345.65 422.77,328.46 425.88,335.83 428.83,321.91 431.78,344.83 434.89,343.19 437.83,342.37 440.61,341.55 443.89,328.46 446.83,329.28 450.11,299.00 453.27,332.55 456.22,359.56 459.33,345.65 462.27,335.83 465.22,344.83 468.33,340.74 471.28,338.28 474.55,340.74 477.82,354.65 481.10,337.46 484.37,345.65 487.32,333.37 490.59,360.38 493.86,333.37 497.14,336.64 500.25,330.92 503.52,339.10 506.79,344.83 510.07,337.46 513.01,331.73 516.28,342.37 519.89,343.19 523.16,336.64 526.60,348.10 529.87,349.74 533.14,350.23 536.25,328.46" fill="none" stroke="#00ff00" stroke-width="1.45" stroke-linejoin="round" clip-path="url(#c0)"/>
<polyline points="32.50,424.43 32.51,424.12 32.52,423.81 32.55,423.50 32.59,423.19 32.64,422.88 32.70,422.57 32.77,422.26 32.86,421.95 32.95,421.64 33.06,421.33 33.18,421.02 33.31,420.71 33.45,420.39 33.60,420.08 33.76,419.77 33.93,419.46 34.12,419.15 34.31,418.84 34.52,418.53 34.74,418.22 34.97,417.91 35.21,417.60 35.46,417.29 35.73,416.98 36.00,416.67 36.29,416.36 36.58,416.05 36.89,415.73 37.21,415.42 37.54,415.11 37.88,414.80 38.23,414.49 38.60,414.18 38.97,413.87 39.36,413.56 39.76,413.25 40.17,412.94 40.59,412.63 41.02,412.32 41.46,412.01 41.91,411.70 42.38,411.39 42.85,411.07 43.34,410.76 43.84,410.45 44.35,410.14 44.87,409.83 45.40,409.52 45.95,409.21 46.50,408.90 47.07,408.59 47.64,408.28 48.23,407.97 48.83,407.66 49.44,407.35 50.06,407.04 50.69,406.73 51.34,406.41 51.99,406.10 52.66,405.79 53.34,405.48 54.03,405.17 54.73,404.86 55.44,404.55 56.16,404.24 56.89,403.93 57.64,403.62 58.39,403.31 59.16,403.00 59.94,402.69 60.73,402.38 61.53,402.07 62.34,401.75 63.17,401.44 64.00,401.13 64.85,400.82 65.70,400.51 66.57,400.20 67.45,399.89 68.34,399.58 69.24,399.27 70.15,398.96 71.08,398.65 72.01,398.34 72.96,398.03 73.92,397.72 74.89,397.41 75.87,397.09 76.86,396.78 77.86,396.47 78.87,396.16 79.90,395.85 80.93,395.54 81.98,395.23 83.04,394.92 84.11,394.61 85.19,394.30 86.28,393.99 87.39,393.68 88.50,393.37 89.63,393.06 90.76,392.75 91.91,392.43 93.07,392.12 94.24,391.81 95.42,391.50 96.61,391.19 97.82,390.88 99.03,390.57 100.26,390.26 101.50,389.95 102.75,389.64 104.01,389.33 105.28,389.02 106.56,388.71 107.85,388.40 109.16,388.09 110.47,387.77 111.80,387.46 113.14,387.15 114.49,386.84 115.85,386.53 117.22,386.22 118.61,385.91 120.00,385.60 121.41,385.29 122.82,384.98 124.25,384.67 125.69,384.36 127.14,384.05 128.60,383.74 130.07,383.43 131.56,383.11 133.05,382.80 134.56,382.49 136.08,382.18 137.61,381.87 139.15,381.56 140.70,381.25 142.26,380.94 143.83,380.63 145.42,380.32 147.01,380.01 148.62,379.70 150.24,379.39 151.87,379.08 153.51,378.77 155.16,378.45 156.83,378.14 158.50,377.83 160.19,377.52 161.88,377.21 163.59,376.90 165.31,376.59 167.04,376.28 168.78,375.97 170.53,375.66 172.30,375.35 174.07,375.04 175.86,374.73 177.66,374.42 179.47,374.11 181.29,373.79 183.12,373.48 184.96,373.17 186.81,372.86 188.68,372.55 190.55,372.24 192.44,371.93 194.34,371.62 196.25,371.31 198.17,371.00 200.10,370.69 202.05,370.38 204.00,370.07 205.97,369.76 207.94,369.45 209.93,369.13 211.93,368.82 213.94,368.51 215.96,368.20 217.99,367.89 220.04,367.58 222.09,367.27 224.16,366.96 226.24,366.65 228.33,366.34 230.43,366.03 232.54,365.72 234.66,365.41 236.79,365.10 238.94,364.79 241.09,364.47 243.26,364.16 245.44,363.85 247.63,363.54 249.83,363.23 252.04,362.92 254.27,362.61 256.50,362.30 258.75,361.99 261.00,361.68 263.27,361.37 265.55,361.06 267.84,360.75 270.14,360.44 272.45,360.13 274.78,359.81 277.11,359.50 279.46,359.19 281.82,358.88 284.19,358.57 286.57,358.26 288.96,357.95 291.36,357.64 293.77,357.33 296.20,357.02 298.63,356.71 301.08,356.40 303.54,356.09 306.01,355.78 308.49,355.47 310.98,355.15 313.49,354.84 316.00,354.53 318.53,354.22 321.06,353.91 323.61,353.60 326.17,353.29 328.74,352.98 331.32,352.67 333.91,352.36 336.52,352.05 339.13,351.74 341.76,351.43 344.40,351.12 347.05,350.81 349.71,350.49 352.38,350.18 355.06,349.87 357.75,349.56 360.46,349.25 363.17,348.94 365.90,348.63 368.64,348.32 371.39,348.01 374.15,347.70 376.92,347.39 379.71,347.08 382.50,346.77 385.31,346.46 388.12,346.15 390.95,345.83 393.79,345.52 396.64,345.21 399.50,344.90 402.37,344.59 405.26,344.28 408.15,343.97 411.06,343.66 413.98,343.35 416.91,343.04 419.85,342.73 422.80,342.42 425.76,342.11 428.73,341.80 431.72,341.49 434.71,341.17 437.72,340.86 440.74,340.55 443.77,340.24 446.81,339.93 449.86,339.62 452.93,339.31 456.00,339.00 459.09,338.69 462.18,338.38 465.29,338.07 468.41,337.76 471.54,337.45 474.68,337.14 477.83,336.83 481.00,336.51 484.17,336.20 487.36,335.89 490.56,335.58 493.77,335.27 496.99,334.96 500.22,334.65 503.46,334.34 506.71,334.03 509.98,333.72 513.25,333.41 516.54,333.10 519.84,332.79 523.15,332.48 526.47,332.17 529.80,331.85 533.15,331.54 536.50,331.23" fill="none" stroke="#0000ff" stroke-width="1.15" stroke-opacity="1" stroke-linejoin="round"/>
<rect x="32.5" y="269.1" width="504.0" height="186.39999999999998" fill="none" stroke="#333" stroke-width="0.7"/>
<text x="32.50" y="467.2" class="tk" text-anchor="middle">0</text>
<line x1="88.50" y1="455.5" x2="88.50" y2="450.5" stroke="#262626" stroke-width="0.7"/>
<line x1="88.50" y1="269.1" x2="88.50" y2="274.1" stroke="#262626" stroke-width="0.7"/>
<text x="88.50" y="467.2" class="tk" text-anchor="middle">100</text>
<line x1="144.50" y1="455.5" x2="144.50" y2="450.5" stroke="#262626" stroke-width="0.7"/>
<line x1="144.50" y1="269.1" x2="144.50" y2="274.1" stroke="#262626" stroke-width="0.7"/>
<text x="144.50" y="467.2" class="tk" text-anchor="middle">200</text>
<line x1="200.50" y1="455.5" x2="200.50" y2="450.5" stroke="#262626" stroke-width="0.7"/>
<line x1="200.50" y1="269.1" x2="200.50" y2="274.1" stroke="#262626" stroke-width="0.7"/>
<text x="200.50" y="467.2" class="tk" text-anchor="middle">300</text>
<line x1="256.50" y1="455.5" x2="256.50" y2="450.5" stroke="#262626" stroke-width="0.7"/>
<line x1="256.50" y1="269.1" x2="256.50" y2="274.1" stroke="#262626" stroke-width="0.7"/>
<text x="256.50" y="467.2" class="tk" text-anchor="middle">400</text>
<line x1="312.50" y1="455.5" x2="312.50" y2="450.5" stroke="#262626" stroke-width="0.7"/>
<line x1="312.50" y1="269.1" x2="312.50" y2="274.1" stroke="#262626" stroke-width="0.7"/>
<text x="312.50" y="467.2" class="tk" text-anchor="middle">500</text>
<line x1="368.50" y1="455.5" x2="368.50" y2="450.5" stroke="#262626" stroke-width="0.7"/>
<line x1="368.50" y1="269.1" x2="368.50" y2="274.1" stroke="#262626" stroke-width="0.7"/>
<text x="368.50" y="467.2" class="tk" text-anchor="middle">600</text>
<line x1="424.50" y1="455.5" x2="424.50" y2="450.5" stroke="#262626" stroke-width="0.7"/>
<line x1="424.50" y1="269.1" x2="424.50" y2="274.1" stroke="#262626" stroke-width="0.7"/>
<text x="424.50" y="467.2" class="tk" text-anchor="middle">700</text>
<line x1="480.50" y1="455.5" x2="480.50" y2="450.5" stroke="#262626" stroke-width="0.7"/>
<line x1="480.50" y1="269.1" x2="480.50" y2="274.1" stroke="#262626" stroke-width="0.7"/>
<text x="480.50" y="467.2" class="tk" text-anchor="middle">800</text>
<text x="536.50" y="467.2" class="tk" text-anchor="middle">900</text>
<text x="29.0" y="458.10" class="tk" text-anchor="end"><tspan font-size="11.5px">−</tspan>10</text>
<line x1="32.5" y1="424.43" x2="37.5" y2="424.43" stroke="#262626" stroke-width="0.7"/>
<line x1="536.5" y1="424.43" x2="531.5" y2="424.43" stroke="#262626" stroke-width="0.7"/>
<text x="29.0" y="427.03" class="tk" text-anchor="end">0</text>
<line x1="32.5" y1="393.37" x2="37.5" y2="393.37" stroke="#262626" stroke-width="0.7"/>
<line x1="536.5" y1="393.37" x2="531.5" y2="393.37" stroke="#262626" stroke-width="0.7"/>
<text x="29.0" y="395.97" class="tk" text-anchor="end">10</text>
<line x1="32.5" y1="362.30" x2="37.5" y2="362.30" stroke="#262626" stroke-width="0.7"/>
<line x1="536.5" y1="362.30" x2="531.5" y2="362.30" stroke="#262626" stroke-width="0.7"/>
<text x="29.0" y="364.90" class="tk" text-anchor="end">20</text>
<line x1="32.5" y1="331.23" x2="37.5" y2="331.23" stroke="#262626" stroke-width="0.7"/>
<line x1="536.5" y1="331.23" x2="531.5" y2="331.23" stroke="#262626" stroke-width="0.7"/>
<text x="29.0" y="333.83" class="tk" text-anchor="end">30</text>
<line x1="32.5" y1="300.17" x2="37.5" y2="300.17" stroke="#262626" stroke-width="0.7"/>
<line x1="536.5" y1="300.17" x2="531.5" y2="300.17" stroke="#262626" stroke-width="0.7"/>
<text x="29.0" y="302.77" class="tk" text-anchor="end">40</text>
<text x="29.0" y="271.70" class="tk" text-anchor="end">50</text>
<text transform="translate(14.9,363.3) rotate(-90)" class="lb" text-anchor="middle">State Variable Y</text>
<text x="284.5" y="484.0" class="lb" text-anchor="middle">(b) Increase in displacement</text>
<rect x="410.2" y="412.0" width="121.4" height="39.0" fill="#fff" stroke="#262626" stroke-width="0.7"/>
<line x1="412.7" y1="419.05" x2="435.7" y2="419.05" stroke="#ff0000" stroke-width="1.6" stroke-opacity="1" stroke-dasharray="3.3 1.1 1.2 1.1"/>
<text x="437.4" y="422.85" class="lg">EKF</text>
<line x1="412.7" y1="431.40" x2="435.7" y2="431.40" stroke="#00ff00" stroke-width="1.35" stroke-opacity="1"/>
<text x="437.4" y="435.20" class="lg">Contaminated position</text>
<line x1="412.7" y1="444.00" x2="435.7" y2="444.00" stroke="#0000ff" stroke-width="1.0" stroke-opacity="1"/>
<text x="437.4" y="447.80" class="lg">Real Position</text>
</svg>
</body></html>
